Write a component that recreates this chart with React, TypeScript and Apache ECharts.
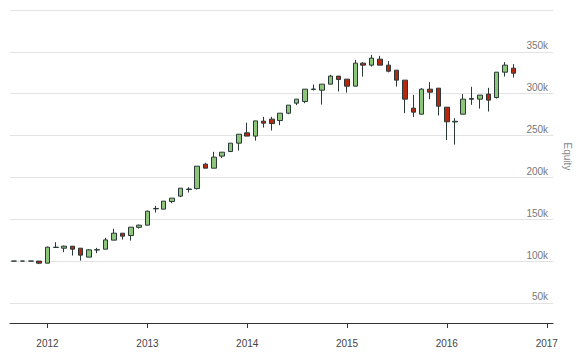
import React, { useEffect, useRef } from "react";
import * as echarts from "echarts";

// Monthly candles (month start dates)
const months: string[] = [
  "2011-09-01", "2011-10-01", "2011-11-01", "2011-12-01",
  "2012-01-01", "2012-02-01", "2012-03-01", "2012-04-01", "2012-05-01", "2012-06-01",
  "2012-07-01", "2012-08-01", "2012-09-01", "2012-10-01", "2012-11-01", "2012-12-01",
  "2013-01-01", "2013-02-01", "2013-03-01", "2013-04-01", "2013-05-01", "2013-06-01",
  "2013-07-01", "2013-08-01", "2013-09-01", "2013-10-01", "2013-11-01", "2013-12-01",
  "2014-01-01", "2014-02-01", "2014-03-01", "2014-04-01", "2014-05-01", "2014-06-01",
  "2014-07-01", "2014-08-01", "2014-09-01", "2014-10-01", "2014-11-01", "2014-12-01",
  "2015-01-01", "2015-02-01", "2015-03-01", "2015-04-01", "2015-05-01", "2015-06-01",
  "2015-07-01", "2015-08-01", "2015-09-01", "2015-10-01", "2015-11-01", "2015-12-01",
  "2016-01-01", "2016-02-01", "2016-03-01", "2016-04-01", "2016-05-01", "2016-06-01",
  "2016-07-01", "2016-08-01", "2016-09-01",
];

const opens: number[] = [
  100000, 100000, 100000, 100000,
  97500, 116600, 115400, 117800, 115400, 104700,
  113200, 114200, 125000, 133300, 130500, 140300,
  142900, 162400, 162000, 171100, 177600, 185500,
  186600, 215800, 211000, 225400, 230900, 240900,
  253200, 249300, 267200, 269600, 267900, 276700,
  288700, 290600, 305000, 304200, 311400, 321000,
  317400, 309000, 336500, 334100, 341300, 334100,
  328100, 316200, 282700, 275500, 305400, 306600,
  283900, 266200, 275500, 293300, 293500, 299500,
  295400, 325700, 330500,
];

const closes: number[] = [
  100000, 100000, 100000, 97500,
  116600, 116200, 117800, 114200, 107100, 113400,
  113600, 125300, 133300, 129800, 140500, 142900,
  159600, 162900, 171600, 175200, 187100, 186100,
  213400, 211000, 224200, 230100, 240900, 251600,
  249300, 267500, 264800, 264300, 276700, 286300,
  293500, 305400, 305600, 311400, 321000, 316900,
  309000, 336500, 334100, 342500, 334100, 326900,
  316200, 293500, 277900, 305400, 301800, 285100,
  266400, 267000, 293500, 294200, 298300, 292300,
  325700, 334100, 324500,
];

const lows: number[] = [
  100000, 100000, 100000, 96300,
  97500, 116000, 110600, 106600, 100600, 104700,
  109400, 114200, 125000, 125700, 124500, 138800,
  142900, 158000, 162000, 169200, 176400, 181900,
  185500, 211000, 211000, 223000, 230200, 232000,
  249300, 244000, 259500, 256000, 262400, 275500,
  286300, 288700, 303800, 287000, 311400, 302600,
  301400, 309000, 320500, 332400, 334100, 325500,
  308500, 276700, 272000, 275500, 293500, 273900,
  244500, 239200, 275500, 286700, 282200, 278700,
  294200, 320500, 319300,
];

const highs: number[] = [
  100000, 100000, 100000, 100000,
  117300, 122600, 118500, 117800, 115400, 114200,
  115800, 127700, 138500, 133300, 140500, 143600,
  160300, 166000, 171600, 175200, 187100, 188300,
  213400, 217400, 230500, 230100, 240900, 251600,
  265500, 267500, 272300, 272300, 276700, 286300,
  293500, 305400, 310900, 311400, 322500, 321000,
  317400, 340400, 337700, 346400, 345200, 338900,
  328100, 316200, 298600, 306600, 313800, 306600,
  283900, 270800, 299500, 308200, 298300, 307000,
  325700, 337700, 335300,
];

const yearTicks: string[] = ["2012", "2013", "2014", "2015", "2016", "2017"];

const axisFont = "'Liberation Sans', Arial, sans-serif";

export default function App() {
  const ref = useRef<HTMLDivElement>(null);

  useEffect(() => {
    if (!ref.current) return;
    const chart = echarts.init(ref.current, undefined, { renderer: "svg" });
    const data = months.map((m, i) => [
      new Date(m + "T00:00:00").getTime(),
      opens[i],
      closes[i],
      lows[i],
      highs[i],
    ]);
    const tickValues = yearTicks.map((y) => new Date(y + "-01-01T00:00:00").getTime());

    chart.setOption({
      animation: false,
      grid: { left: 10, right: 26, top: 10, bottom: 37 },
      xAxis: {
        type: "value",
        min: new Date("2011-08-17T00:00:00").getTime(),
        max: new Date("2017-01-24T00:00:00").getTime(),
        axisLine: { show: true, lineStyle: { color: "#333", width: 1 } },
        axisTick: { show: true, length: 5, lineStyle: { color: "#333" }, customValues: tickValues },
        axisLabel: {
          customValues: tickValues,
          formatter: (v: number) => String(new Date(v).getFullYear()),
          color: "#444",
          fontSize: 10,
          fontFamily: axisFont,
          margin: 15,
          showMinLabel: true,
          showMaxLabel: true,
        },
        splitLine: { show: false },
      },
      yAxis: {
        type: "value",
        position: "right",
        min: 26000,
        max: 400000,
        splitNumber: 8,
        name: "Equity",
        nameLocation: "middle",
        nameRotate: -90,
        nameGap: 3,
        nameTextStyle: { color: "#888", fontSize: 10, fontFamily: axisFont, padding: [0, 20, 0, 0] },
        axisLine: { show: false },
        axisTick: { show: false },
        axisLabel: {
          inside: true,
          showMinLabel: false,
          showMaxLabel: false,
          verticalAlign: "bottom",
          margin: 5,
          padding: [0, 0, 1, 0],
          color: "#777",
          fontSize: 10,
          fontFamily: axisFont,
          formatter: (v: number) => v / 1000 + "k",
        },
        splitLine: { show: true, lineStyle: { color: "#e3e3e3", width: 1 } },
      },
      series: [
        {
          type: "candlestick",
          data,
          barWidth: 5,
          itemStyle: {
            color: "#8dc67a",
            color0: "#b5280e",
            borderColor: "#2b3838",
            borderColor0: "#2b3838",
            borderWidth: 1,
          },
        },
      ],
    });
    return () => chart.dispose();
  }, []);

  return (
    <div
      ref={ref}
      style={{ position: "absolute", left: 0, top: 0, width: 580, height: 360 }}
    />
  );
}
